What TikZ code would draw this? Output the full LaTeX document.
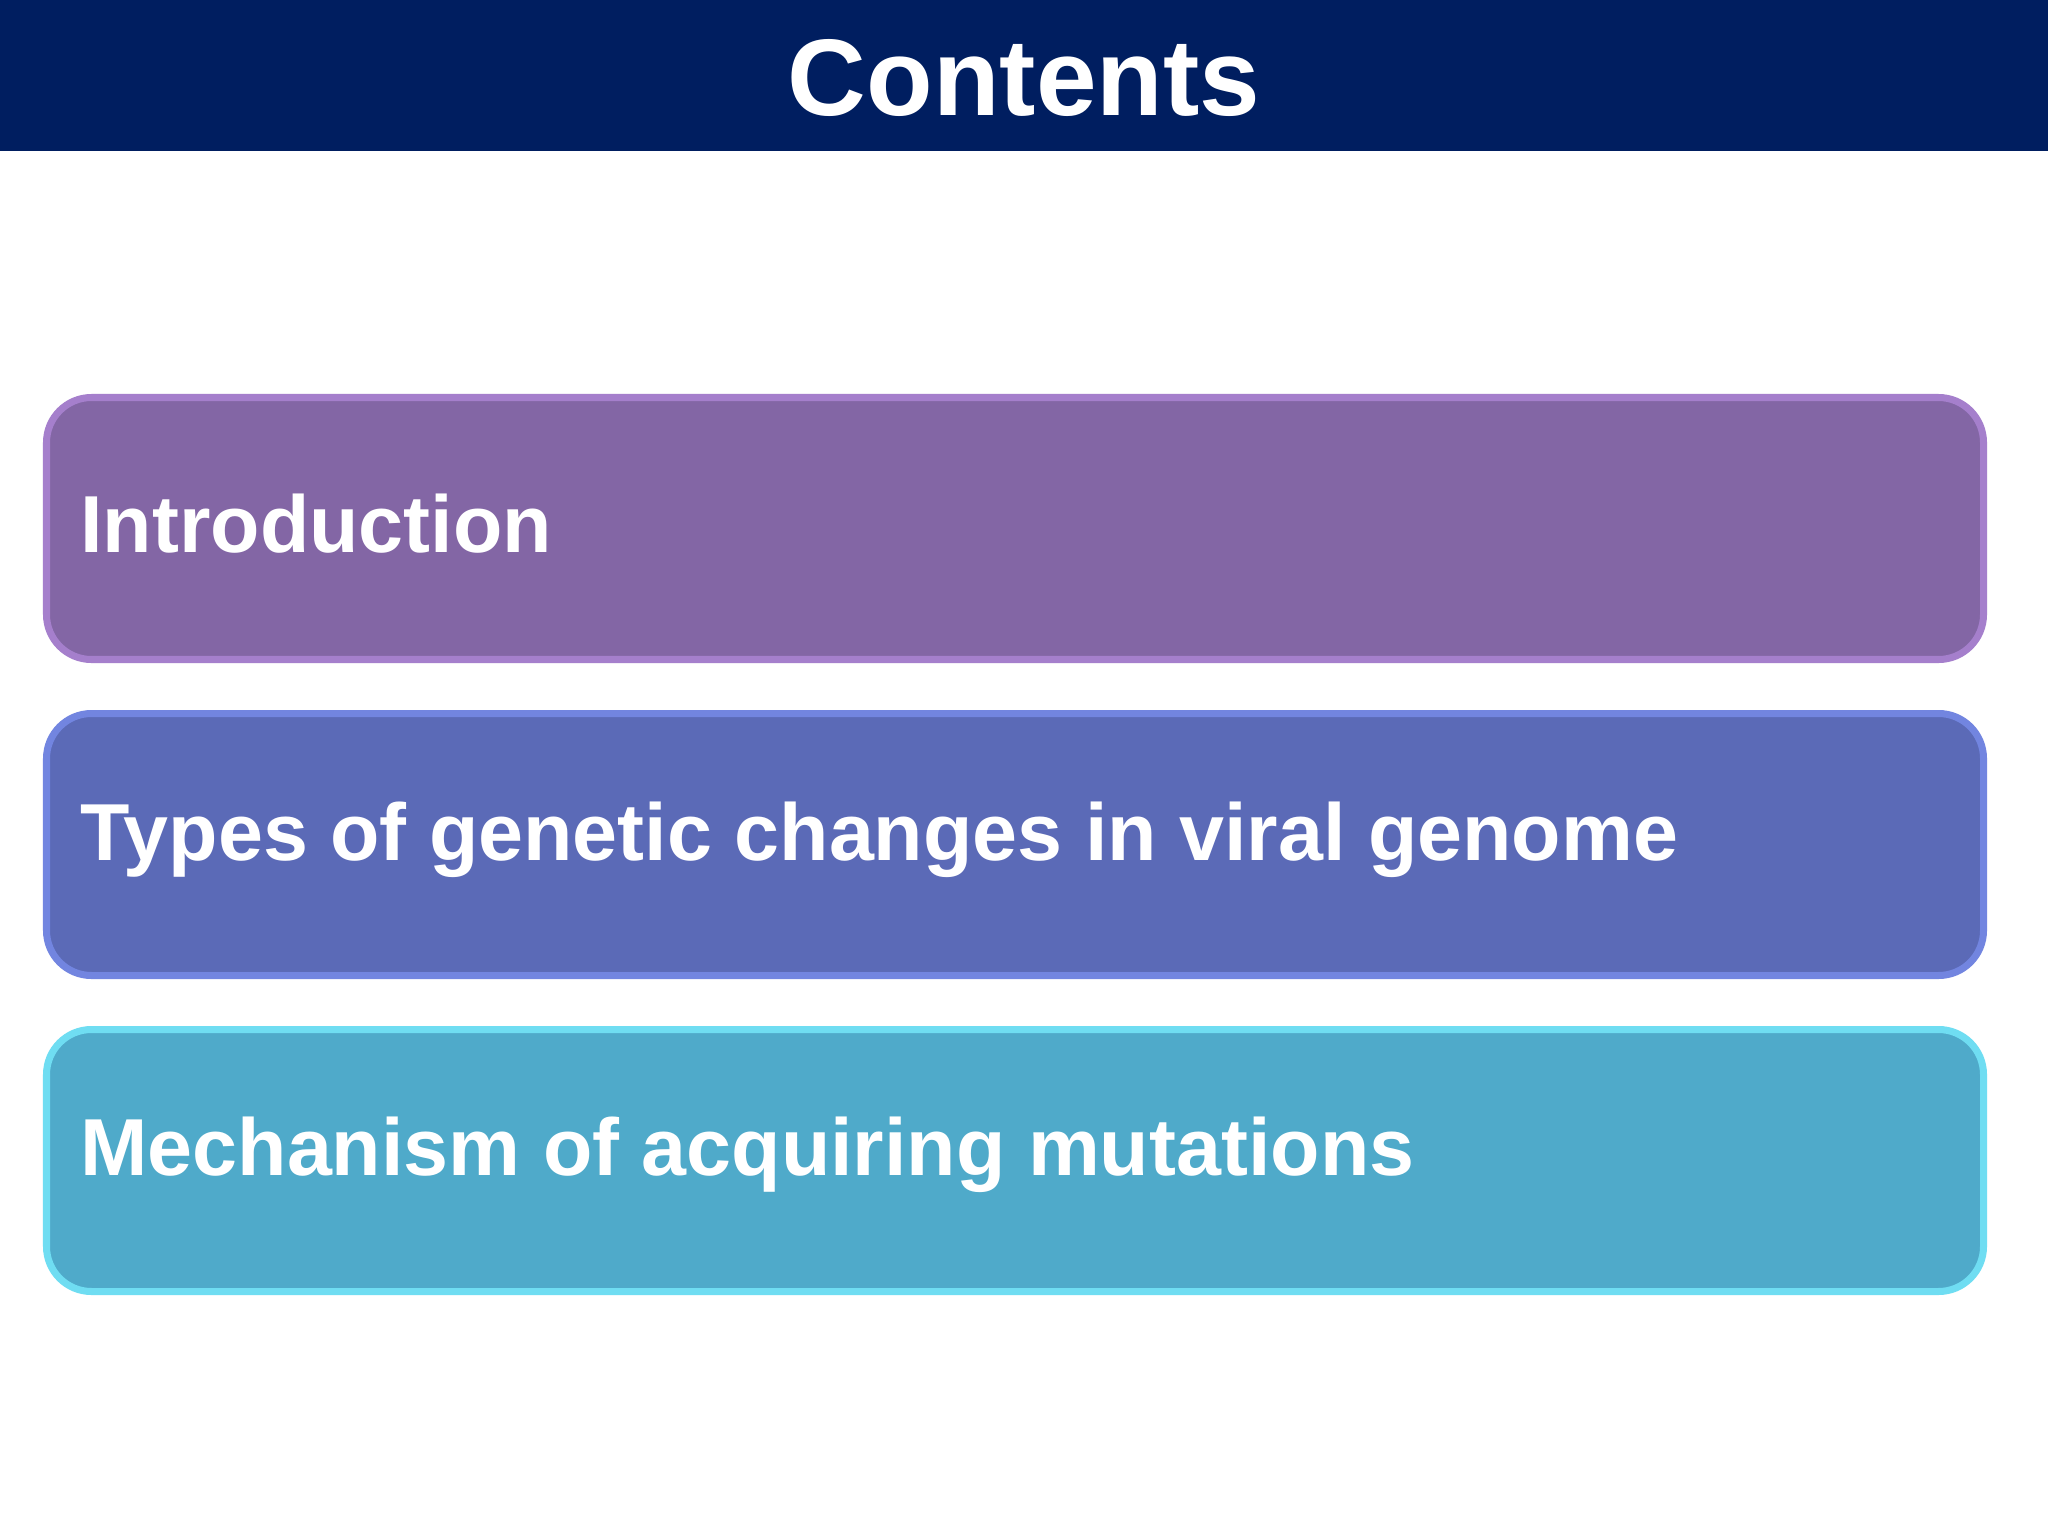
\documentclass[tikz,border=0pt]{standalone}
\usepackage{fontspec}
\setmainfont{Liberation Sans}
\definecolor{navy}{HTML}{001E60}
\definecolor{introfill}{HTML}{8366A5}
\definecolor{introedge}{HTML}{A57FCC}
\definecolor{typesfill}{HTML}{5B6AB7}
\definecolor{typesedge}{HTML}{7285E0}
\definecolor{mechfill}{HTML}{4FAACA}
\definecolor{mechedge}{HTML}{6FDDF2}
\tikzset{itembox/.style={rounded corners=0.45cm, line width=2pt, minimum width=19.37cm, minimum height=2.62cm, anchor=north west}}
\tikzset{itemtext/.style={anchor=west, text=white, font=\bfseries\fontsize{23}{27}\selectfont}}
\begin{document}
\begin{tikzpicture}
\useasboundingbox (0,0) rectangle (20.48,-15.36);
\fill[white] (0,0) rectangle (20.48,-15.36);
\fill[navy] (0,0) rectangle (20.48,-1.51);
\node[text=white, font=\bfseries\fontsize{31}{36}\selectfont] (title) at (10.24,-0.78) {Contents};
% agenda items
\node[itembox, fill=introfill, draw=introedge] (intro) at (0.43,-3.94) {};
\node[itemtext] (introtext) at (0.68,-5.24) {Introduction};
\node[itembox, fill=typesfill, draw=typesedge] (types) at (0.43,-7.1) {};
\node[itemtext] (typestext) at (0.68,-8.4) {Types of genetic changes in viral genome};
\node[itembox, fill=mechfill, draw=mechedge] (mech) at (0.43,-10.26) {};
\node[itemtext] (mechtext) at (0.68,-11.55) {Mechanism of acquiring mutations};
\end{tikzpicture}
\end{document}
